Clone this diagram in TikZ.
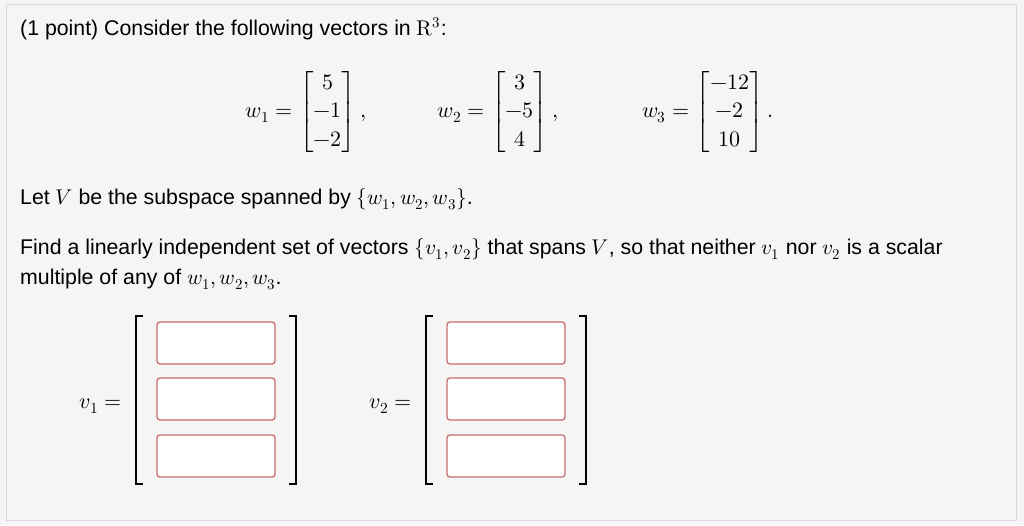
\documentclass[tikz,border=0pt]{standalone}
\usepackage{amsmath}
\usepackage{fontspec}
\setmainfont{Liberation Sans}
\usepackage{unicode-math}
\setmathfont{Latin Modern Math}
\begin{document}
\begin{tikzpicture}[x=1pt,y=-1pt,
  txt/.style={anchor=base west,inner sep=0pt,font=\fontsize{21.3}{25}\selectfont},
  mth/.style={inner sep=0pt,font=\fontsize{22}{26}\selectfont},
  ibox/.style={draw=red!45!gray!80,line width=1.3pt,fill=white,rounded corners=3pt,minimum width=118pt,minimum height=42pt,inner sep=0pt},
  brk/.style={line width=1.6pt}]
\useasboundingbox (0,0) rectangle (1024,525);
\fill[gray!8] (0,0) rectangle (1024,525);
\draw[gray!30] (6,4) rectangle (1016,520);
\node[txt] (t1) at (20,35) {(1 point) Consider the following vectors in $\symup{R}^3$:};
\setlength\arraycolsep{9pt}
\renewcommand\arraystretch{1.1}
\node[mth] (w1) at (306,112) {$w_1=\begin{bmatrix}5\\-1\\-2\end{bmatrix},$};
\node[mth] (w2) at (498,112) {$w_2=\begin{bmatrix}3\\-5\\4\end{bmatrix},$};
\node[mth] (w3) at (708,112) {$w_3=\begin{bmatrix}-12\\-2\\10\end{bmatrix}.$};
\node[txt] (t2) at (20,204) {Let $V$ be the subspace spanned by $\{w_1,w_2,w_3\}$.};
\node[txt] (t3) at (20,254) {Find a linearly independent set of vectors $\{v_1,v_2\}$ that spans $V$, so that neither $v_1$ nor $v_2$ is a scalar};
\node[txt] (t4) at (20,284) {multiple of any of $w_1,w_2,w_3$.};
\node[mth,anchor=east] (v1) at (122,406) {$v_1=$};
\node[mth,anchor=east] (v2) at (412,406) {$v_2=$};
\foreach \x/\n in {136/a,426/b}{
  \draw[brk] (\x+7,316) -- (\x,316) -- (\x,484) -- (\x+7,484);
  \draw[brk] (\x+153,316) -- (\x+160,316) -- (\x+160,484) -- (\x+153,484);
  \node[ibox] (\n1) at (\x+80,343) {};
  \node[ibox] (\n2) at (\x+80,399) {};
  \node[ibox] (\n3) at (\x+80,456) {};
}
\end{tikzpicture}
\end{document}
